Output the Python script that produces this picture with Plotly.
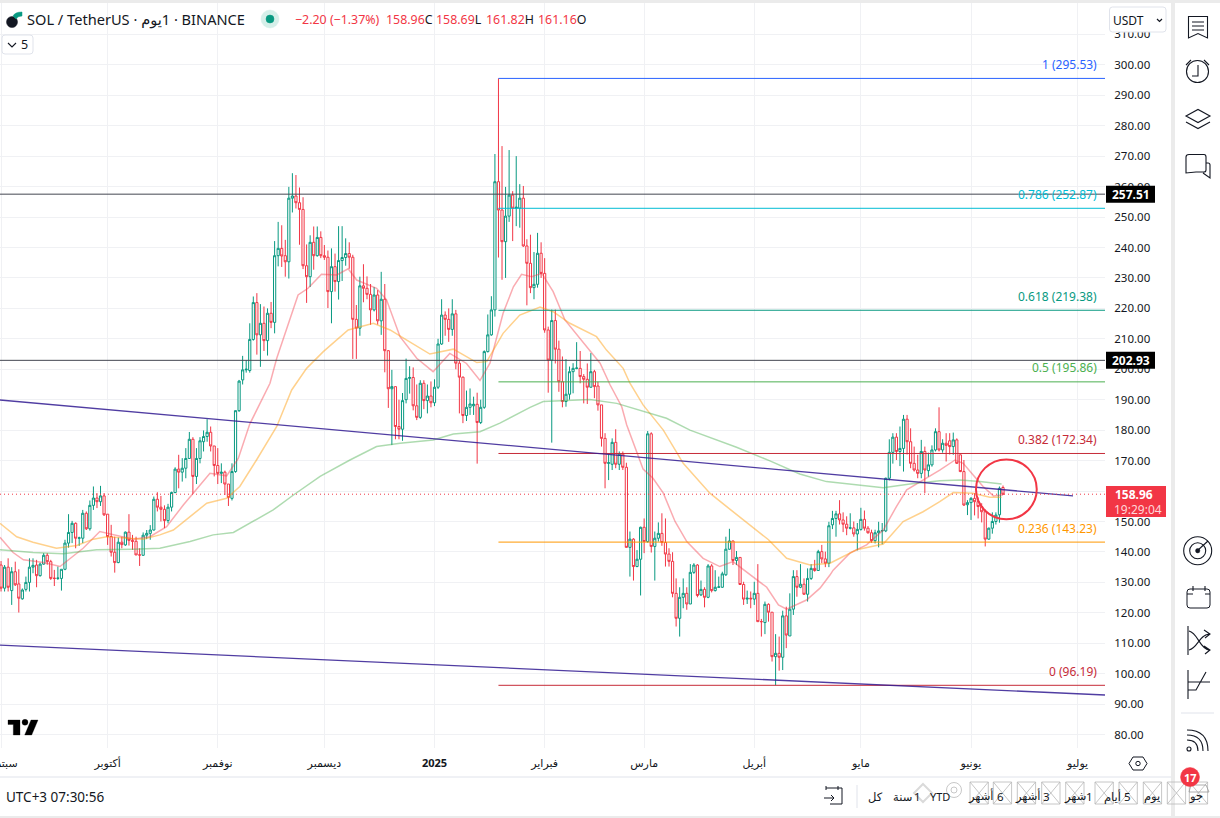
import pandas as pd
import plotly.graph_objects as go

# ---------- data: daily SOL/USDT candles, 2024-09-01 .. 2025-06-10 (one line per month) ----------
first_day = "2024-09-01"
opens = [
135.7,128.1,135,127.3,133.5,129.5,124.6,127.7,130,135,135.7,132.2,136,138.9,136.8,131.4,131.3,131.3,134.3,142.9,146.4,149.4,144.5,144.5,152.7,147.6,155.3,157.7,156.5,158.4,
152.4,145.05,139.9,136.5,143.2,142.3,146.5,143.8,143.5,139,138.9,145.5,146.1,147.2,157.3,154.7,154,150.3,154.7,159.5,167.2,166.2,167.5,170.7,177,164.8,170.7,176.2,177.9,179.3,174.8,
168.4,165.8,166.2,162.3,157.6,166.4,186.4,196.5,199.8,199.6,209.8,221.9,211.3,215.1,209.4,218.4,215.4,237.3,239.7,237.3,235.3,256.2,256.9,254.7,252.5,234,230.4,241.7,237.3,243.3,
237.3,236.8,225.5,233.7,228.8,235.7,236.7,238,236.8,216.4,213.5,227.4,226.6,224.6,219.5,224.4,215.9,223,206.1,193.6,194.3,181.2,180.3,190,197,197.3,188,184.2,195.4,189.7,191.2,
189,194.1,208.3,217.8,216.4,213.1,218.2,202,197.4,184.8,187.5,188,188.5,182.5,187.5,205.8,211.3,219.5,261.6,252.3,241.9,250.3,257.2,252.9,252.9,256.2,240.5,234.8,226.8,227.9,238.1,
231.5,212.9,203,216,206.6,195.9,189.4,191.8,199.2,200.3,200.3,197.6,196.7,194.1,199.2,194.5,188.3,177.3,169.1,168.8,176,168.8,172.1,167.8,141.5,144.2,135.2,137.6,
148.1,143.4,178.8,141.8,144.5,146.1,143.1,139.3,136.9,126.4,118.2,125.1,126.4,122.9,133.3,135.7,125.9,127.7,125.1,135.4,127.3,128.4,128.4,132.5,140.9,143.6,137.2,138.2,129.3,124.5,124.8,
124.5,126.4,117.1,116.8,122.8,120.2,105.6,106.7,105.4,119,112.4,121.2,131.9,128.4,129.4,126.1,131.3,134.6,133.9,140.1,137.7,136.3,148.9,151,152.5,150.5,149.1,147.8,147.9,145.9,
147.4,150.7,147.8,146.3,143.7,146.3,146.9,146.9,164.2,172.7,177.7,173,174,183.6,176.2,169.1,166.9,165.8,173,166.7,168.6,173.5,179.5,173.5,175.7,176.5,174.6,176.8,171.9,166.4,155.5,
156.2,157.6,156.5,154.9,153.2,144.2,147.8,150,152.2,161.16]
highs = [
137,135.7,137.9,135,136.8,134.3,128,131.9,137.9,137.9,137.4,136.5,139.6,139.6,137.4,134.1,135.2,134.3,144,152.4,150.2,149.7,145,153.8,153.3,156.9,161.5,159.3,161.7,159.3,
152.4,148.9,145,144.7,145,146.7,152.4,145.6,145,141.2,146.4,147.2,148.8,158.2,159.6,158.4,155.3,155.8,159.8,167.8,171.9,170.8,174.1,179.4,177.7,174.1,177.7,179.9,183.6,181.2,174.8,
174.1,169.1,166.7,162.3,169.1,186.4,196.5,204.4,203,215.1,223.9,225,221.4,220.6,220,222.1,242.1,248.4,247.3,242.5,259.9,264.4,263.8,259.7,256.5,241,244,246.9,246.9,245.3,
240.8,239,239.7,238,247,247,243,241.7,237.6,221.1,230.4,234.5,230.5,228,227,226,232,228,206.3,199.8,194.3,190,192.2,203.5,201,200.6,195,196.4,196.4,195,196,
196.7,210,223,219,220,223,219.5,203,197.6,193,193.7,191,192.3,190,206.2,218,224,270.7,295.53,273.3,259.9,272,258.5,270,260.8,260.2,242.7,244.2,238.5,244.8,241.7,
236.5,214,219.6,219.6,209.4,204.2,203.3,200.9,202,208.9,206,198.4,201.9,205.3,199.8,195.9,188.3,179,172.4,177.3,180.3,173,173,169.3,146.7,144.5,140.6,148.3,
151,179.7,179.3,146.7,149.7,152.7,151,141.2,139.9,131.3,128.4,131.3,128.4,136,136.3,136,130.6,128.4,136,136,134,131.9,133.5,145,147.6,143.7,140.3,138.2,130.2,127.3,127,
130.2,136,118,123.7,123.1,120.2,113,112.2,120.7,122,126.4,134,134,136,131.3,134.6,136,137.4,140.7,142.3,140.1,149.9,153.5,153.5,157,153,151.7,152.7,150,149.5,
154.5,153.6,148.5,147.3,147.3,149.9,149.5,164.4,177,179,179,181.2,185,185,180.6,174.6,171.9,176.8,174.6,172.6,175,180.6,187.5,177,179,179,179.2,177.3,172,170.2,157,
158,159.3,157.9,156,154,148,153,153,161.5,161.82]
lows = [
127,127,127,122.6,128.8,120.1,124.3,127,127,133,128.4,131.9,135.8,135.8,130.8,128.8,130.8,127.3,134,141.4,142.9,141.2,142,142.9,147.2,147,153.8,154.4,155.1,151.8,
142.3,138.5,133.2,136.3,141.2,142,142.1,140.7,139,135.4,138.7,144.2,144,147,153.3,150,147.8,149.4,153.3,159.3,160.9,163.1,164.2,170.6,159.1,162.3,169.1,173,176.2,173,164.8,
162.3,162.6,158.7,155.1,156.9,166,186,195,198.9,198.9,209.4,204.8,200.8,206,204.5,213.5,211.8,233.8,233.6,230.4,229.8,251.5,252.8,240.9,232.9,221.8,227,232.7,237,236.5,
235.9,220.1,215.1,225.5,222.9,229,234,233,203.4,203.4,211,222,223,214.6,219,214.7,211.3,199,187.3,175.1,177,177,176.5,188.8,192,186.5,183.3,183.7,186.9,185.5,187.5,
187.9,193.5,208,211,209,211,200,185.5,182.3,183,185,185,169,182,187,205.5,211,217.3,236.7,229.4,230,248.4,242.1,247,246.5,240.2,221,225,223,226.8,230,
212,192.3,175.9,201.9,192.6,187.5,187.7,190,192.1,200,195.4,188.8,188.6,194,190.5,186.4,174.6,160.9,163.6,166.9,167.5,166.9,166.9,141.5,131.9,130.6,135,125.7,
139.6,143,139.8,130.6,143.4,142,135.2,135.2,125.1,115.5,112.2,121.5,121,122.9,132.8,125.1,125.5,121.8,124.8,126.7,127,128.2,128.2,132.1,140.7,135.7,135.7,129.2,122.6,122.9,121.5,
122.6,117.1,112.2,113,117.1,104,96.19,101,101.2,108.4,112.4,119.3,125.3,128.1,125.9,123.7,130.8,133.5,133.9,136.3,135,135,147.5,145,149,146.5,145.5,147.4,145,140.5,
147,147,146,143,142.8,141.5,142.5,146.5,163.5,169,170.2,168.2,166.4,172,167.5,166.4,164.2,164.2,159.3,164.7,168,173,173,172.6,169.7,172,171.9,168.9,166.2,155.1,152.1,
150.5,152,151,149.7,141.8,144,146,149,149.6,158.69]
closes = [
128.1,135,128.4,133.5,129.2,124.8,127.5,130,135,135.6,132.2,136,138.9,136.8,131.3,131.3,131.4,134.3,142.9,146.4,149.4,144.5,144.6,152.7,147.6,155.3,157.7,156.5,158.4,152.2,
145.05,139.9,136.5,143.2,142.4,146.5,143.8,143.5,139,139,145.5,146.1,147.2,157.3,154.7,154,150.3,154.7,159.5,167.2,166.2,167.5,170.7,177,164.8,170.7,176.5,177.9,179.3,174.8,168.4,
165.8,166.2,162.3,157.9,166.4,186.4,196.1,199.8,200,209.8,221.9,211.3,215.1,209.4,218.4,215.4,237.3,239.7,237.2,235.3,256.2,256.9,254.7,252.5,234,230.4,241.7,237.3,243.3,237.3,
236.8,225.5,233.7,228.8,235.7,236.7,238,236.8,216.4,213.5,227.4,226.6,224.6,219.5,224.4,215.9,223,206.1,193.6,194.3,181.2,180.3,189.7,197,197.3,188,184.2,195.4,189.7,191.2,189,
194.1,208.3,217.8,216.4,213.1,218.2,202,197.4,184.8,187.5,188.6,188.5,182.5,187.5,205.8,211.3,219.5,261.6,252.3,241.9,250.3,257.2,252.9,253.2,256.2,240.5,234.8,226.8,227.9,238.1,231.5,
212.9,203,216,206.6,195.9,189.4,191.8,199.2,200.3,200.4,197.6,196.7,194.1,199.2,194.3,188.3,177.3,169.1,169.3,176,168.8,172.1,167.8,141.5,144.2,135.2,137.6,148.1,
143.4,178.8,141.8,144.5,146.1,143.1,139.3,136.9,126.4,118.2,125.1,126.4,122.9,133.3,135.7,125.7,127.7,125.1,135.4,127.3,128.4,128.5,132.8,140.9,143.6,137.2,138.2,129.3,124.5,124.8,124.6,
126.4,117.1,117.1,122.8,120.2,105.6,106.7,105.4,119,112.7,121.2,131.9,128.4,129.4,126.1,131.3,134.6,133.9,140.1,137.7,136.3,148.6,151,152.5,150.5,149.1,147.8,147.9,145.9,147.4,
150.7,147.8,146.3,143.7,146.3,146.9,147,164.2,172.7,177.7,173,174,183.6,176.2,169.1,166.9,165.8,173,166.9,168.6,173.5,179.5,173.5,175.7,175,174.6,176.8,169.1,166.4,155.4,156.2,
157.6,156.5,154.9,153.2,144.2,147.8,150,152.1,160.9,158.96]

# moving averages: day number counted from 2024-10-01, and price
ma_origin = "2024-10-01"
ema20_day = [-30.3,-26.6,-23.7,-18,-13.4,-10.6,-6.9,-2.2,1.6,7.2,11.9,16.6,21.3,26,28.8,33.5,36.8,40,45.7,47.6,50.8,53.6,56.4,60.2,64.5,67.7,70.1,75.7,78.5,82.3,87,91.6,96.3,101,104.8,107.6,111.3,114.2,116.5,119.3,122.2,125.4,128.7,134.3,138.6,141.4,144.7,146.1,150.7,153.5,156.4,159.7,163,167.6,172.3,176,181.7,185.5,188.8,191.1,196.7,200.5,203.3,204.2,208.9,213.6,218.3,222,224.9,229.5,234.2,238.5,240.8,243.6,246.4,249.3,252]
ema20_val = [144.8,139.8,137.4,136.5,135.2,137.9,141.2,146.7,145.6,144.2,145,148.3,155.4,162,165.8,165,170.8,182,195.4,203.6,214.5,224.4,226.6,231.2,231,233,229.3,226.6,222.8,210.7,203.6,199.2,205.2,201.9,196.3,202,218.4,227.1,231.2,230.4,231.5,225.5,216.2,208,202,194.9,187.7,181.7,167.2,164.2,159.3,150,143.4,137.9,135.2,136.8,131.9,128.4,122.6,121.2,124.2,128.1,132.4,134,139.6,142.3,147.2,154.9,160.4,163.6,166.9,170.2,169.1,165.3,161.5,158.4,158.7]
ema50_day = [-30.3,-25.6,-21,-14.4,-8.7,-4,-0.3,5.3,10,14.7,18.5,23.2,27.9,33.5,37.2,41.9,47.6,51.8,56,60.7,67.7,74.8,79.5,84.2,90.7,97.3,103.9,106.7,111.3,116,121.7,125.4,130.1,137.6,140.4,145.1,147,150.7,156.4,162,169.5,175.2,180.8,186,191.1,197.7,203.3,210.8,218.3,223.9,229.5,234.2,238,243.6,248.3,251.6]
ema50_val = [149.4,145,143.2,141.2,142.1,144.2,145,144.5,144.2,145.6,147.2,151.6,156,157.6,161.5,170.2,181.2,193.2,200.3,205.8,212.9,215.1,212.9,209.6,205,206.6,202.2,202.5,211.8,217.8,220.4,218.9,215.1,210.7,206.3,200.3,195.4,188.3,180,169.1,159.3,154,148.9,144,137.9,135.7,136.3,140.7,142.6,150,153.2,156.5,159.5,159.3,158,158]
ema200_day = [-30.3,-21,-12.5,-3.1,7.2,14.7,23.2,29.7,35.4,41,46.6,52.3,59.8,68.2,75.7,82.3,91.6,97.3,104.8,110.4,118.9,122.6,135.7,143.3,150.7,157.3,163.9,177,186.4,194.8,202.3,211.7,218.3,225.8,234.2,239.9,245.5,251.6]
ema200_val = [140.7,139.8,139.4,140.7,140.9,141.2,143.4,145.6,146.4,150,153.8,158.7,164.8,170.2,174.6,175.7,176.8,178.7,179.5,182.3,187.5,189.4,190.1,188.8,186.1,183.9,180,174.4,169.9,165.6,163.1,162,161.1,162.3,163.4,163.6,163.1,162.3]

# Fibonacci retracement anchored on the 2025-01-19 high
fib_start = "2025-01-19"
fib_ratio = ["1","0.786","0.618","0.5","0.382","0.236","0"]
fib_price = [295.53,252.87,219.38,195.86,172.34,143.23,96.19]
fib_color = ["#2962FF","#00BCD4","#089981","#4CAF50","#C62B38","#FF9800","#C62B38"]
hlines = [257.51, 202.93]
last_close = 158.96
countdown = "19:29:04"
trend_upper_x = ["2024-08-31 17:00","2025-06-29 17:00"]
trend_upper_y = [189.9,158.4]
trend_lower_x = ["2024-08-31 17:00","2025-07-08 17:00"]
trend_lower_y = [109.4,93.0]
x_range = ["2024-08-31 17:00","2025-07-08 17:00"]
y_range = [75.6,320.3]
month_ticks = ["2024-09-01","2024-10-01","2024-11-01","2024-12-01","2025-01-01","2025-02-01","2025-03-01","2025-04-01","2025-05-01","2025-06-01","2025-07-01"]
month_text = ["سبتمبر","أكتوبر","نوفمبر","ديسمبر","<b>2025</b>","فبراير","مارس","أبريل","مايو","يونيو","يوليو"]
price_ticks = list(range(80,320,10))

# ---------- figure ----------
FONT = "Noto Sans, DejaVu Sans, sans-serif"
INK = "#131722"
UP, DOWN = "#089981", "#F23645"
W, H = 1220, 818
dates = pd.date_range(first_day, periods=len(opens), freq="D")
assert len(opens)==len(highs)==len(lows)==len(closes)==283, (len(opens),len(highs),len(lows),len(closes))
def madates(days):
    return [pd.Timestamp(ma_origin)+pd.Timedelta(days=d) for d in days]

fig = go.Figure()
fig.add_trace(go.Candlestick(x=dates, open=opens, high=highs, low=lows, close=closes,
    increasing=dict(line=dict(color=UP,width=1),fillcolor="white"),
    decreasing=dict(line=dict(color=DOWN,width=1),fillcolor="white"),whiskerwidth=0,hoverinfo="skip"))
for d,v,c in [(ema20_day,ema20_val,"rgba(242,54,69,0.42)"),(ema50_day,ema50_val,"rgba(255,152,0,0.45)"),(ema200_day,ema200_val,"rgba(76,175,80,0.45)")]:
    fig.add_trace(go.Scatter(x=madates(d),y=v,mode="lines",line=dict(color=c,width=1.5),hoverinfo="skip"))
for p in hlines:
    fig.add_trace(go.Scatter(x=x_range,y=[p,p],mode="lines",line=dict(color="#434651",width=1),hoverinfo="skip"))
for p,c in zip(fib_price,fib_color):
    fig.add_trace(go.Scatter(x=[fib_start,x_range[1]],y=[p,p],mode="lines",line=dict(color=c,width=1),hoverinfo="skip"))
fig.add_trace(go.Scatter(x=trend_upper_x,y=trend_upper_y,mode="lines",line=dict(color="rgba(49,27,146,0.85)",width=1.3),hoverinfo="skip"))
fig.add_trace(go.Scatter(x=trend_lower_x,y=trend_lower_y,mode="lines",line=dict(color="rgba(49,27,146,0.85)",width=1.3),hoverinfo="skip"))
fig.add_trace(go.Scatter(x=x_range,y=[last_close,last_close],mode="lines",line=dict(color=DOWN,width=1,dash="1px 3px"),hoverinfo="skip"))
# page overlay axes: one unit = one pixel, used only for the chart's chrome
fig.add_trace(go.Scatter(x=[0],y=[0],mode="markers",opacity=0,xaxis="x2",yaxis="y2",hoverinfo="skip"))

shapes=[]
def rect(x0,y0,x1,y1,fill,line=None):
    shapes.append(dict(type="rect",xref="x2",yref="y2",x0=x0,y0=y0,x1=x1,y1=y1,fillcolor=fill,line=dict(width=0 if line is None else 1,color=line or fill),layer="above"))
def path(d,color=INK,width=1.1,fill=None):
    shapes.append(dict(type="path",xref="x2",yref="y2",path=d,line=dict(color=color,width=width),fillcolor=fill or "rgba(0,0,0,0)",layer="above"))
def circ(cx,cy,r,color=INK,width=1.1,fill=None):
    shapes.append(dict(type="circle",xref="x2",yref="y2",x0=cx-r,x1=cx+r,y0=cy-r,y1=cy+r,line=dict(color=color,width=width),fillcolor=fill or "rgba(0,0,0,0)",layer="above"))
def rrect(x0,y0,x1,y1,r=3,color="#E0E3EB",fill="white"):
    path(f"M{x0+r},{y0} H{x1-r} Q{x1},{y0} {x1},{y0+r} V{y1-r} Q{x1},{y1} {x1-r},{y1} H{x0+r} Q{x0},{y1} {x0},{y1-r} V{y0+r} Q{x0},{y0} {x0+r},{y0} Z",color,1,fill)

anns=[]
def text(x,y,s,size=12,color=INK,anchor="left",bold=False):
    anns.append(dict(xref="x2",yref="y2",x=x,y=y,text=f"<b>{s}</b>" if bold else s,showarrow=False,xanchor=anchor,yanchor="middle",
                     font=dict(family=FONT,size=size,color=color),borderpad=0,borderwidth=0))

# circle drawn on the chart
shapes.append(dict(type="circle",xref="x",yref="y",x0="2025-06-02 09:36",x1="2025-06-19 12:00",y0=150.7,y1=170.4,line=dict(color=DOWN,width=2),fillcolor="rgba(0,0,0,0)"))

# window chrome
rect(0,0,W,3,"#EBEBEB"); rect(0,816,W,H,"#EBEBEB"); rect(1171,0,1175,H,"#EBEBEB")
rect(1105,748,1171,777,"white")
path("M0,777 H1171",color="#E0E3EB",width=1)
path("M1181,713 H1214",color="#E0E3EB",width=1)

# price labels on the axis
for p in hlines:
    shapes.append(dict(type="rect",xref="x2",yref="y",x0=1106,x1=1155,y0=p-2.8,y1=p+2.8,fillcolor="#000000",line=dict(width=0),layer="above"))
    anns.append(dict(xref="x2",yref="y",x=1130.5,y=p,text=f"<b>{p:.2f}</b>",showarrow=False,font=dict(family=FONT,size=12,color="white")))
rect(1106,486,1166,517,"#F23645")
text(1115,494,f"<b>{last_close:.2f}</b>",12,"white")
text(1114,509,countdown,12,"#FFD6DA")

# fib labels
for r,p,c in zip(fib_ratio,fib_price,fib_color):
    anns.append(dict(xref="x2",yref="y",x=1099,y=p,yshift=14,text=f"{r} ({p:.2f})",showarrow=False,xanchor="right",yanchor="middle",
                     font=dict(family=FONT,size=12,color=c)))

# header
circ(12,22,5.5,"#131722",0.5,"#131722"); path("M13,16 Q15,12 22,12 L22,16 Q18,16 16,19 Z",UP,0.5,UP)
text(27,19,"SOL / TetherUS · يوم\u200e1 · BINANCE",14.6)
circ(270,19,9,"#D5EFE9",0.5,"#D5EFE9"); circ(270,19,4,UP,0.5,UP)
text(295,19,"−2.20 (−1.37%)",12.4,DOWN)
for x,v,l in [(386,"158.96","C"),(436,"158.69","L"),(486,"161.82","H"),(538,"161.16","O")]:
    text(x,19,f'<span style="color:{DOWN}">{v}</span>{l}',12.4)
rrect(2,35,33,54)
path("M8,43 L12,47 L16,43")
text(21,44.5,"5",12.5)
rrect(1109.5,7,1166,32)
text(1113,20,"USDT",12)
path("M1157,19 L1159.5,21.5 L1162,19",width=1.2)

# left-most month label, cropped by the page edge
text(1,762,month_text[0],11,anchor="center")

# time-axis gear
path("M1133,757 H1143 L1147,763.5 L1143,770 H1133 L1129,763.5 Z",width=1); circ(1138,763.5,2.2,width=1)

# watermark
path("M8,720 H20 V735 H13.3 V724.5 H8 Z",color="#000",width=0.3,fill="#000")
circ(25,722.3,3,"#000",0.3,"#000")
path("M31,720 H38 L31.7,735 H24.7 Z",color="#000",width=0.3,fill="#000")

# right toolbar icons
path("M1188.5,16.5 H1207.5 V38 L1198,33.5 L1188.5,38 Z M1192,22 H1204 M1192,26 H1204 M1192,30 H1204")
circ(1197.5,71.5,11); path("M1198,65 V76 H1192 M1186,65 L1191,60 M1209,65 L1204,60")
path("M1186,116 L1198,109.5 L1210,116 L1198,122.5 Z M1186,122 L1198,128.5 L1210,122")
path("M1189,154.5 H1204 Q1206,154.5 1206,157 V170 Q1206,172 1204,172 H1196 L1186,173 V157 Q1186,154.5 1189,154.5 Z M1206,163 H1208 Q1210,163 1210,165 V178 L1203,173")
circ(1197.7,550.7,14); circ(1197.7,550.7,8); circ(1197.7,550.7,2.2,INK,0.5,INK); path("M1198,550 L1208,541")
rrect(1187,589,1210,608,3,INK,"rgba(0,0,0,0)"); path("M1193,586 V591 M1205,586 V591 M1187,594 H1193 M1205,594 H1210")
path("M1188,626 V655 M1189,631 C1198,633 1199,648 1209,650 M1189,650 C1198,648 1199,635 1209,634 M1204,630 L1210,634 L1205,638 M1204,646 L1210,650 L1205,654")
path("M1188,670 V699 M1188,682 H1210 M1188,690 H1196 L1206,672")
circ(1189,749,2); path("M1187,740 Q1198,740 1198,751 M1187,735 Q1203,735 1203,751 M1187,730 Q1208,730 1208,751")

# bottom bar: the range buttons show broken image boxes in the reference
for x0 in [970,993.3,1017.3,1041.7,1065.7,1095,1119,1143.3,1167.3,1189.3]:
    x1=x0+18.3
    path(f"M{x0},782 H{x1} V804 H{x0} Z M{x0},782 L{x1},804 M{x1},782 L{x0},804",color="#B8B8B8",width=0.8)
circ(954,790,7.5,"#C8C8C8",1); circ(954,790,3,"#C8C8C8",1)
path("M923,784 L932,793 L923,802 L914,793 Z",color="#DADADA",width=2)
path("M857,785 V808",color="#E0E3EB",width=1)
path("M826,790 V788 H842 V804 H830 M826,788 V786 M838,786 V790 M824,798 H834 M831,795 L834,798 L831,801",width=1)
for s,x in [("أشهر",980),("6",1000),("أشهر",1027),("3",1046),("شهر",1075),("1",1089),("أيام",1112),("5",1127),("يوم",1152),("جو",1196)]:
    text(x,796,s,11.5,anchor="center")
text(940,796,"YTD",11,anchor="center")
text(917,796,"1",11.5,anchor="center")
text(902,796,"سنة",11.5,anchor="center")
text(875,796,"كل",11.5,anchor="center")
text(6,797,"UTC+3 07:30:56",13.5)
path("M1191,785 L1206,785 L1209,792 H1189 Z",width=0.8,color="#999")
circ(1190,777,9.5,DOWN,0.5,DOWN)
text(1190,777,"<b>17</b>",11,"white",anchor="center")

fig.update_layout(width=W,height=H,margin=dict(l=0,r=0,t=0,b=0),paper_bgcolor="white",plot_bgcolor="rgba(0,0,0,0)",
    showlegend=False,boxgap=0.12,shapes=shapes,annotations=anns,hovermode=False,
    xaxis=dict(domain=[0,1105/W],range=x_range,type="date",tickmode="array",tickvals=month_ticks,ticktext=month_text,
        tickfont=dict(family=FONT,size=11,color=INK),ticks="outside",ticklen=5,tickcolor="rgba(0,0,0,0)",
        showgrid=True,gridcolor="#F0F1F4",gridwidth=1,zeroline=False,showline=False,rangeslider=dict(visible=False),fixedrange=True),
    yaxis=dict(domain=[1-748/H,1-3/H],range=y_range,side="right",tickmode="array",tickvals=price_ticks,tickformat=".2f",
        tickfont=dict(family=FONT,size=11.5,color=INK),ticks="outside",ticklen=6,tickcolor="rgba(0,0,0,0)",
        showgrid=True,gridcolor="#F0F1F4",gridwidth=1,zeroline=False,showline=False,fixedrange=True),
    xaxis2=dict(domain=[0,1],range=[0,W],visible=False,fixedrange=True,anchor="y2"),
    yaxis2=dict(domain=[0,1],range=[H,0],visible=False,fixedrange=True,anchor="x2"))

fig.write_html("out.html",config=dict(displayModeBar=False),post_script="document.body.style.margin='0';document.documentElement.style.overflow='hidden';")
